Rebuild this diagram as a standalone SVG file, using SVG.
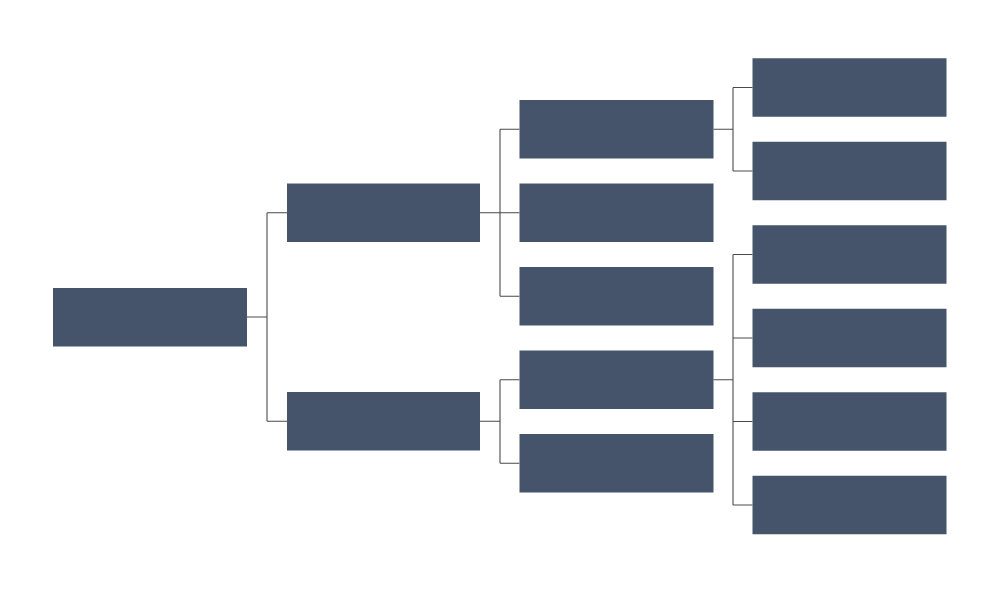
<svg xmlns="http://www.w3.org/2000/svg" width="1000" height="593" viewBox="0 0 1000 593">
  <style>
    .box { fill: #45546b; }
    .conn { fill: none; stroke: #4a4a4a; stroke-width: 1.1; }
  </style>
  <rect width="1000" height="593" fill="#ffffff"/>
  <g id="connectors" class="conn">
    <path d="M247,317 H267 M267,212.75 V421.25 M267,212.75 H287 M267,421.25 H287"/>
    <path d="M480,212.75 H500 M500,129.25 V296.25 M500,129.25 H519.5 M500,212.75 H519.5 M500,296.25 H519.5"/>
    <path d="M480,421.25 H500 M500,379.75 V463.25 M500,379.75 H519.5 M500,463.25 H519.5"/>
    <path d="M713.5,129.25 H733 M733,87.5 V171 M733,87.5 H752.5 M733,171 H752.5"/>
    <path d="M713.5,379.75 H733 M733,254.5 V505 M733,254.5 H752.5 M733,338 H752.5 M733,421.5 H752.5 M733,505 H752.5"/>
  </g>
  <g id="root"><rect class="box" x="53" y="288" width="194" height="58.5"/></g>
  <g id="l1a"><rect class="box" x="287" y="183.5" width="193" height="58.5"/></g>
  <g id="l1b"><rect class="box" x="287" y="392" width="193" height="58.5"/></g>
  <g id="l2a"><rect class="box" x="519.5" y="100" width="194" height="58.5"/></g>
  <g id="l2b"><rect class="box" x="519.5" y="183.5" width="194" height="58.5"/></g>
  <g id="l2c"><rect class="box" x="519.5" y="267" width="194" height="58.5"/></g>
  <g id="l2d"><rect class="box" x="519.5" y="350.5" width="194" height="58.5"/></g>
  <g id="l2e"><rect class="box" x="519.5" y="434" width="194" height="58.5"/></g>
  <g id="l3a"><rect class="box" x="752.5" y="58.25" width="194" height="58.5"/></g>
  <g id="l3b"><rect class="box" x="752.5" y="141.75" width="194" height="58.5"/></g>
  <g id="l3c"><rect class="box" x="752.5" y="225.25" width="194" height="58.5"/></g>
  <g id="l3d"><rect class="box" x="752.5" y="308.75" width="194" height="58.5"/></g>
  <g id="l3e"><rect class="box" x="752.5" y="392.25" width="194" height="58.5"/></g>
  <g id="l3f"><rect class="box" x="752.5" y="475.75" width="194" height="58.5"/></g>
</svg>
